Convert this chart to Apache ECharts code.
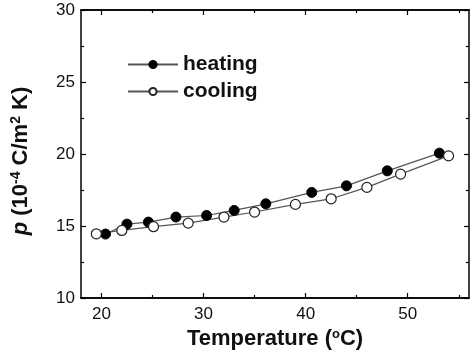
<!DOCTYPE html>
<html><head><meta charset="utf-8">
<script src="https://cdn.jsdelivr.net/npm/echarts@6/dist/echarts.min.js"></script>
<style>html,body{margin:0;padding:0;background:#fff}#c{width:474px;height:355px}</style>
</head><body><div id="c"></div>
<script>
const heatT = [20.4, 22.5, 24.6, 27.3, 30.3, 33.0, 36.1, 40.6, 44.0, 48.0, 53.1];
const heatP = [14.44, 15.13, 15.27, 15.62, 15.73, 16.08, 16.54, 17.33, 17.79, 18.83, 20.06];
const coolT = [19.5, 22.0, 25.1, 28.5, 32.0, 35.0, 39.0, 42.5, 46.0, 49.3, 54.0];
const coolP = [14.46, 14.69, 14.95, 15.20, 15.62, 15.97, 16.50, 16.89, 17.68, 18.60, 19.87];
const xMajor = [20, 30, 40, 50];
const xMinor = [25, 35, 45, 55];
const seriesNames = ['heating', 'cooling'];

const font = '"Liberation Sans", Arial, sans-serif';
const chart = echarts.init(document.getElementById('c'));
const axisLine = {show: true, lineStyle: {color: '#000', width: 1.5}};
function xAx(pos, ticks, len, labels, name) {
  return {
    type: 'value', position: pos, min: 18, max: 56,
    axisLine: axisLine,
    axisTick: {show: true, inside: true, length: len, customValues: ticks, lineStyle: {color: '#000', width: 1.2}},
    axisLabel: labels ? {show: true, customValues: ticks, color: '#111', fontSize: 17, fontFamily: font, margin: 8} : {show: false},
    splitLine: {show: false},
    name: name || '', nameLocation: 'middle', nameGap: 25,
    nameTextStyle: {fontSize: 22, fontWeight: 'bold', fontFamily: font, color: '#111',
      rich: {sup: {fontSize: 13, fontWeight: 'bold', fontFamily: font, color: '#111', verticalAlign: 'top', padding: [0,0,8,0]}}}
  };
}
function yAx(pos, labels, name) {
  return {
    type: 'value', position: pos, min: 10, max: 30, interval: 5,
    axisLine: axisLine,
    axisTick: {show: true, inside: true, length: 5, lineStyle: {color: '#000', width: 1.2}},
    minorTick: {show: true, splitNumber: 2, length: 3, lineStyle: {color: '#000', width: 1.2}},
    axisLabel: labels ? {show: true, color: '#111', fontSize: 17, fontFamily: font, margin: 6} : {show: false},
    splitLine: {show: false},
    name: name || '', nameLocation: 'middle', nameGap: 48, nameRotate: 90,
    nameTextStyle: {fontSize: 22, fontWeight: 'bold', fontFamily: font, color: '#111', padding: [0, 14, 0, 0],
      rich: {
        it: {fontSize: 22, fontWeight: 'bold', fontStyle: 'italic', fontFamily: font, color: '#111'},
        sup: {fontSize: 14, fontWeight: 'bold', fontFamily: font, color: '#111', padding: [0,0,10,0]}
      }}
  };
}
chart.setOption({
  animation: false,
  backgroundColor: '#fff',
  grid: {left: 81, right: 5, top: 10, bottom: 57, outerBoundsMode: 'none', containLabel: false},
  legend: {
    orient: 'vertical', left: 122, top: 49, itemWidth: 50, itemHeight: 9, itemGap: 6,
    data: seriesNames,
    textStyle: {fontSize: 21, fontWeight: 'bold', fontFamily: font, color: '#111'}
  },
  xAxis: [
    xAx('bottom', xMajor, 5, true, 'Temperature ({sup|o}C)'),
    xAx('bottom', xMinor, 3, false),
    xAx('top', xMajor, 5, false),
    xAx('top', xMinor, 3, false)
  ],
  yAxis: [
    yAx('left', true, '{it|p} (10{sup|-4} C/m{sup|2} K)'),
    yAx('right', false)
  ],
  series: [
    {name: seriesNames[0], type: 'line', data: heatT.map((t, i) => [t, heatP[i]]),
     symbol: 'circle', symbolSize: 10, showAllSymbol: true,
     itemStyle: {color: '#000', borderColor: '#000', borderWidth: 1},
     lineStyle: {color: '#555', width: 1.2}},
    {name: seriesNames[1], type: 'line', data: coolT.map((t, i) => [t, coolP[i]]),
     symbol: 'circle', symbolSize: 10, showAllSymbol: true,
     itemStyle: {color: '#fff', borderColor: '#222', borderWidth: 1.2},
     lineStyle: {color: '#555', width: 1.2}}
  ]
});
</script></body></html>
